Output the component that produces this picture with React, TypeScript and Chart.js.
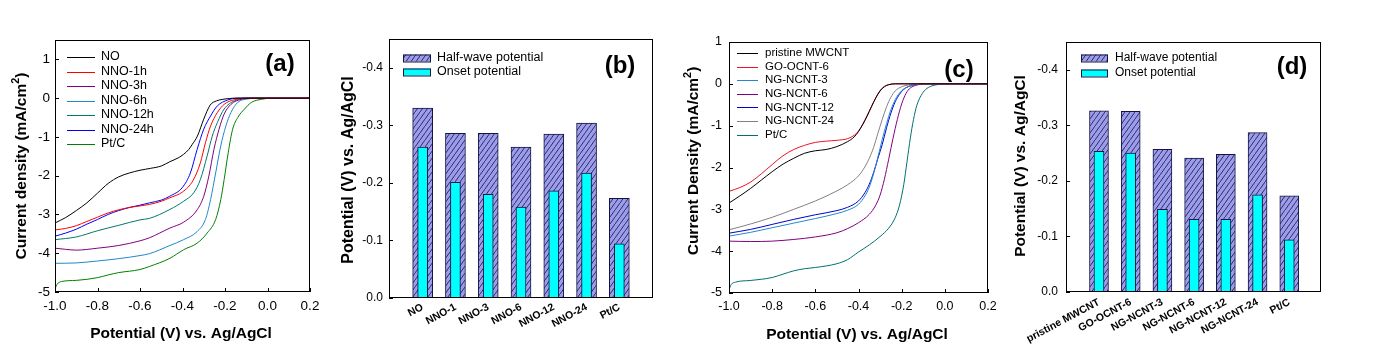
import React, { useEffect, useRef } from "react";
import { Chart, registerables } from "chart.js";

Chart.register(...registerables);

const FONT = '"Liberation Sans", Arial, Helvetica, sans-serif';
Chart.defaults.font.family = FONT;
Chart.defaults.color = "#000";

const H = 362;

// ---------------- Panel (a) data ----------------
const A_X_TICKS = [-1.0, -0.8, -0.6, -0.4, -0.2, 0.0, 0.2];
const A_Y_TICKS = [-5, -4, -3, -2, -1, 0, 1];
const A_LABELS = ["NO", "NNO-1h", "NNO-3h", "NNO-6h", "NNO-12h", "NNO-24h", "Pt/C"];
const A_COLORS = ["#000000", "#ff0000", "#800080", "#1e88c8", "#00786e", "#0000ff", "#008000"];

const A_NO: [number, number][] = [
  [-1.0, -3.22], [-0.95, -3.08], [-0.9, -2.9], [-0.85, -2.7], [-0.8, -2.45], [-0.75, -2.2],
  [-0.7, -2.03], [-0.65, -1.93], [-0.6, -1.86], [-0.55, -1.81], [-0.5, -1.75], [-0.46, -1.64],
  [-0.42, -1.54], [-0.395, -1.45], [-0.37, -1.32], [-0.355, -1.2], [-0.33, -0.98], [-0.3, -0.54],
  [-0.27, -0.18], [-0.24, -0.07], [-0.21, -0.03], [-0.18, -0.01], [-0.15, 0], [0.2, 0],
];
const A_N1: [number, number][] = [
  [-1.0, -3.4], [-0.95, -3.36], [-0.9, -3.29], [-0.85, -3.18], [-0.8, -3.07], [-0.75, -2.96],
  [-0.7, -2.88], [-0.65, -2.82], [-0.6, -2.78], [-0.555, -2.74], [-0.5, -2.66], [-0.46, -2.57],
  [-0.4, -2.42], [-0.35, -2.12], [-0.316, -1.67], [-0.292, -1.15], [-0.268, -0.72], [-0.236, -0.37],
  [-0.204, -0.16], [-0.156, -0.04], [-0.1, 0], [0.2, 0],
];
const A_N3: [number, number][] = [
  [-1.0, -3.87], [-0.95, -3.9], [-0.9, -3.92], [-0.8, -3.87], [-0.7, -3.8], [-0.6, -3.68],
  [-0.555, -3.6], [-0.459, -3.35], [-0.395, -3.2], [-0.331, -2.88], [-0.3, -2.53], [-0.276, -2.01],
  [-0.252, -1.32], [-0.228, -0.8], [-0.204, -0.41], [-0.172, -0.16], [-0.124, -0.03], [-0.08, 0], [0.2, 0],
];
const A_N6: [number, number][] = [
  [-1.0, -4.26], [-0.9, -4.25], [-0.8, -4.2], [-0.7, -4.14], [-0.6, -4.06], [-0.555, -4.01],
  [-0.459, -3.8], [-0.395, -3.65], [-0.331, -3.44], [-0.292, -3.13], [-0.268, -2.62], [-0.244, -1.93],
  [-0.22, -1.23], [-0.196, -0.72], [-0.172, -0.37], [-0.14, -0.11], [-0.092, -0.02], [-0.05, 0], [0.2, 0],
];
const A_N12: [number, number][] = [
  [-1.0, -3.65], [-0.9, -3.58], [-0.8, -3.42], [-0.7, -3.28], [-0.6, -3.14], [-0.555, -3.1],
  [-0.459, -2.87], [-0.395, -2.66], [-0.347, -2.44], [-0.316, -2.1], [-0.284, -1.49], [-0.26, -0.98],
  [-0.236, -0.63], [-0.204, -0.28], [-0.156, -0.07], [-0.1, 0], [0.2, 0],
];
const A_N24: [number, number][] = [
  [-1.0, -3.56], [-0.95, -3.48], [-0.9, -3.38], [-0.85, -3.25], [-0.8, -3.13], [-0.75, -3.0],
  [-0.7, -2.9], [-0.65, -2.82], [-0.6, -2.76], [-0.555, -2.7], [-0.5, -2.63], [-0.46, -2.53],
  [-0.4, -2.3], [-0.363, -1.93], [-0.331, -1.32], [-0.3, -0.8], [-0.268, -0.46], [-0.236, -0.2],
  [-0.188, -0.05], [-0.14, 0], [0.2, 0],
];
const A_PTC: [number, number][] = [
  [-1.0, -4.92], [-0.99, -4.8], [-0.97, -4.73], [-0.9, -4.7], [-0.8, -4.63], [-0.75, -4.56],
  [-0.7, -4.5], [-0.6, -4.42], [-0.555, -4.34], [-0.459, -4.13], [-0.395, -3.91], [-0.331, -3.74],
  [-0.284, -3.48], [-0.244, -3.13], [-0.22, -2.62], [-0.204, -2.1], [-0.185, -1.41], [-0.164, -0.8],
  [-0.14, -0.5], [-0.108, -0.28], [-0.076, -0.11], [-0.028, -0.03], [0.02, 0], [0.2, 0],
];
const A_DATA = [A_NO, A_N1, A_N3, A_N6, A_N12, A_N24, A_PTC];

// ---------------- Panel (b) data ----------------
const B_CATS = ["NO", "NNO-1", "NNO-3", "NNO-6", "NNO-12", "NNO-24", "Pt/C"];
const B_HALF = [-0.33, -0.286, -0.286, -0.262, -0.285, -0.304, -0.173];
const B_ONSET = [-0.262, -0.201, -0.18, -0.158, -0.186, -0.217, -0.094];
const BAR_Y_TICKS = [-0.4, -0.3, -0.2, -0.1, 0.0];

// ---------------- Panel (c) data ----------------
const C_X_TICKS = [-1.0, -0.8, -0.6, -0.4, -0.2, 0.0, 0.2];
const C_Y_TICKS = [-5, -4, -3, -2, -1, 0, 1];
const C_LABELS = ["pristine MWCNT", "GO-OCNT-6", "NG-NCNT-3", "NG-NCNT-6", "NG-NCNT-12", "NG-NCNT-24", "Pt/C"];
const C_COLORS = ["#000000", "#ee1122", "#2288cc", "#800080", "#0000d0", "#808080", "#007070"];

const C_PRISTINE: [number, number][] = [
  [-1.0, -2.85], [-0.95, -2.68], [-0.9, -2.5], [-0.85, -2.3], [-0.8, -2.1], [-0.75, -1.92],
  [-0.7, -1.78], [-0.65, -1.66], [-0.6, -1.6], [-0.55, -1.57], [-0.5, -1.5], [-0.45, -1.38],
  [-0.42, -1.27], [-0.4, -1.14], [-0.38, -0.97], [-0.36, -0.77], [-0.34, -0.55], [-0.32, -0.34],
  [-0.3, -0.17], [-0.28, -0.07], [-0.26, -0.02], [-0.23, 0], [0.2, 0],
];
const C_GO: [number, number][] = [
  [-1.0, -2.57], [-0.95, -2.48], [-0.9, -2.35], [-0.85, -2.15], [-0.8, -1.93], [-0.75, -1.72],
  [-0.7, -1.57], [-0.65, -1.47], [-0.6, -1.4], [-0.55, -1.37], [-0.5, -1.35], [-0.45, -1.31],
  [-0.42, -1.23], [-0.4, -1.13], [-0.38, -0.96], [-0.36, -0.76], [-0.34, -0.54], [-0.32, -0.33],
  [-0.3, -0.16], [-0.28, -0.06], [-0.26, -0.02], [-0.23, 0], [0.2, 0],
];
const C_NG3: [number, number][] = [
  [-1.0, -3.64], [-0.9, -3.55], [-0.8, -3.44], [-0.7, -3.33], [-0.6, -3.22], [-0.5, -3.1],
  [-0.45, -3.02], [-0.4, -2.88], [-0.37, -2.68], [-0.35, -2.47], [-0.33, -2.15], [-0.31, -1.75],
  [-0.29, -1.33], [-0.27, -0.95], [-0.25, -0.62], [-0.23, -0.38], [-0.21, -0.22], [-0.19, -0.12],
  [-0.16, -0.05], [-0.12, -0.01], [-0.08, 0], [0.2, 0],
];
const C_NG6: [number, number][] = [
  [-1.0, -3.76], [-0.9, -3.77], [-0.8, -3.76], [-0.7, -3.72], [-0.6, -3.66], [-0.5, -3.56],
  [-0.45, -3.46], [-0.4, -3.32], [-0.35, -3.12], [-0.32, -2.9], [-0.3, -2.66], [-0.28, -2.28],
  [-0.26, -1.8], [-0.24, -1.3], [-0.22, -0.85], [-0.2, -0.48], [-0.18, -0.23], [-0.16, -0.1],
  [-0.13, -0.03], [-0.1, 0], [0.2, 0],
];
const C_NG12: [number, number][] = [
  [-1.0, -3.57], [-0.9, -3.48], [-0.8, -3.36], [-0.7, -3.24], [-0.6, -3.13], [-0.5, -3.03],
  [-0.45, -2.95], [-0.4, -2.8], [-0.37, -2.6], [-0.35, -2.4], [-0.33, -2.12], [-0.31, -1.78],
  [-0.29, -1.45], [-0.27, -1.05], [-0.25, -0.7], [-0.23, -0.43], [-0.21, -0.25], [-0.19, -0.13],
  [-0.16, -0.05], [-0.12, -0.01], [-0.08, 0], [0.2, 0],
];
const C_NG24: [number, number][] = [
  [-1.0, -3.49], [-0.9, -3.35], [-0.8, -3.19], [-0.7, -3.0], [-0.6, -2.8], [-0.5, -2.56],
  [-0.45, -2.41], [-0.4, -2.2], [-0.37, -1.98], [-0.35, -1.78], [-0.33, -1.52], [-0.31, -1.18],
  [-0.29, -0.85], [-0.27, -0.55], [-0.25, -0.32], [-0.23, -0.17], [-0.2, -0.07], [-0.16, -0.02],
  [-0.12, 0], [0.2, 0],
];
const C_PTC: [number, number][] = [
  [-1.0, -4.92], [-0.99, -4.8], [-0.97, -4.74], [-0.9, -4.7], [-0.8, -4.63], [-0.75, -4.55],
  [-0.7, -4.47], [-0.65, -4.42], [-0.6, -4.39], [-0.5, -4.3], [-0.45, -4.2], [-0.4, -4.02],
  [-0.35, -3.85], [-0.3, -3.65], [-0.26, -3.45], [-0.23, -3.2], [-0.21, -2.9], [-0.19, -2.4],
  [-0.175, -1.85], [-0.16, -1.3], [-0.145, -0.85], [-0.13, -0.52], [-0.11, -0.28], [-0.09, -0.14],
  [-0.06, -0.05], [-0.02, -0.01], [0.02, 0], [0.2, 0],
];
const C_DATA = [C_PRISTINE, C_GO, C_NG3, C_NG6, C_NG12, C_NG24, C_PTC];

// ---------------- Panel (d) data ----------------
const D_CATS = ["pristine MWCNT", "GO-OCNT-6", "NG-NCNT-3", "NG-NCNT-6", "NG-NCNT-12", "NG-NCNT-24", "Pt/C"];
const D_HALF = [-0.326, -0.325, -0.257, -0.241, -0.248, -0.287, -0.173];
const D_ONSET = [-0.253, -0.25, -0.149, -0.131, -0.131, -0.175, -0.094];

const BAR_LEGEND = ["Half-wave potential", "Onset potential"];

// ---------------- helpers ----------------
type Part = { t: string; sup?: boolean };
type Frame = { l: number; t: number; r: number; b: number };

function drawTitle(ctx: CanvasRenderingContext2D, parts: Part[], cx: number, cy: number, size: number, vertical: boolean) {
  ctx.save();
  ctx.translate(cx, cy);
  if (vertical) ctx.rotate(-Math.PI / 2);
  const fonts = parts.map((p) => `bold ${p.sup ? size * 0.7 : size}px ${FONT}`);
  let total = 0;
  const widths = parts.map((p, i) => {
    ctx.font = fonts[i];
    const w = ctx.measureText(p.t).width;
    total += w;
    return w;
  });
  let x = -total / 2;
  ctx.textAlign = "left";
  ctx.textBaseline = "alphabetic";
  ctx.fillStyle = "#000";
  const base = size * 0.36;
  parts.forEach((p, i) => {
    ctx.font = fonts[i];
    ctx.fillText(p.t, x, base - (p.sup ? size * 0.42 : 0));
    x += widths[i];
  });
  ctx.restore();
}

function drawLabel(ctx: CanvasRenderingContext2D, s: string, x: number, y: number, size: number, bold: boolean, align: CanvasTextAlign) {
  ctx.font = `${bold ? "bold " : ""}${size}px ${FONT}`;
  ctx.textAlign = align;
  ctx.textBaseline = "middle";
  ctx.fillStyle = "#000";
  ctx.fillText(s, x, y);
}

function drawFrameAndTicks(chart: any, xTicks: boolean) {
  const ctx: CanvasRenderingContext2D = chart.ctx;
  const ca = chart.chartArea;
  ctx.save();
  ctx.strokeStyle = "#000";
  ctx.lineWidth = 1;
  ctx.strokeRect(Math.round(ca.left) + 0.5, Math.round(ca.top) + 0.5, Math.round(ca.right - ca.left) - 1, Math.round(ca.bottom - ca.top) - 1);
  ctx.beginPath();
  const ys = chart.scales.y;
  ys.ticks.forEach((t: any) => {
    const y = Math.round(ys.getPixelForValue(t.value)) + 0.5;
    ctx.moveTo(ca.left, y);
    ctx.lineTo(ca.left + 4, y);
  });
  if (xTicks) {
    const xs = chart.scales.x;
    xs.ticks.forEach((t: any) => {
      const x = Math.round(xs.getPixelForValue(t.value)) + 0.5;
      ctx.moveTo(x, ca.bottom);
      ctx.lineTo(x, ca.bottom - 4);
    });
  }
  ctx.stroke();
  ctx.restore();
}

function makeHatch(): CanvasPattern | string {
  const c = document.createElement("canvas");
  c.width = 5;
  c.height = 7;
  const g = c.getContext("2d");
  if (!g) return "#9c9cee";
  g.fillStyle = "#9c9cee";
  g.fillRect(0, 0, 5, 7);
  g.strokeStyle = "#22224a";
  g.lineWidth = 0.9;
  g.beginPath();
  g.moveTo(0, 7);
  g.lineTo(5, 0);
  g.stroke();
  return g.createPattern(c, "repeat") || "#9c9cee";
}

// ---------------- line panels ----------------
type LineSpec = {
  left: number;
  width: number;
  frame: Frame;
  labels: string[];
  colors: string[];
  data: [number, number][][];
  xTicks: number[];
  yTicks: number[];
  yMin: number;
  yMax: number;
  tickSize: number;
  xPad: number;
  yPad: number;
  yTitle: Part[];
  yTitleAt: [number, number];
  xTitleAt: [number, number];
  titleSize: number;
  letter: string;
  letterAt: [number, number];
  legend: { x1: number; x2: number; tx: number; y0: number; dy: number; size: number };
};

function lineConfig(p: LineSpec): any {
  const L = p.left;
  return {
    type: "line",
    data: {
      datasets: p.data.map((pts, i) => ({
        label: p.labels[i],
        data: pts.map(([x, y]) => ({ x, y })),
        borderColor: p.colors[i],
        borderWidth: 1,
        pointRadius: 0,
        fill: false,
        cubicInterpolationMode: "monotone",
      })),
    },
    options: {
      animation: false,
      responsive: false,
      events: [],
      layout: { padding: { left: 0, top: p.frame.t, right: L + p.width - p.frame.r, bottom: 0 } },
      plugins: { legend: { display: false }, tooltip: { enabled: false } },
      scales: {
        x: {
          type: "linear",
          min: p.xTicks[0],
          max: p.xTicks[p.xTicks.length - 1],
          grid: { display: false, drawTicks: false },
          border: { display: false },
          ticks: { font: { size: p.tickSize }, padding: p.xPad, maxRotation: 0, callback: (v: any) => Number(v).toFixed(1) },
          afterBuildTicks: (s: any) => {
            s.ticks = p.xTicks.map((v) => ({ value: v }));
          },
          afterFit: (s: any) => {
            s.height = H - p.frame.b;
          },
        },
        y: {
          type: "linear",
          min: p.yMin,
          max: p.yMax,
          grid: { display: false, drawTicks: false },
          border: { display: false },
          ticks: { font: { size: p.tickSize }, padding: p.yPad, callback: (v: any) => String(v) },
          afterBuildTicks: (s: any) => {
            s.ticks = p.yTicks.map((v) => ({ value: v }));
          },
          afterFit: (s: any) => {
            s.width = p.frame.l - L;
          },
        },
      },
    },
    plugins: [
      {
        id: "decor",
        afterDraw(chart: any) {
          drawFrameAndTicks(chart, true);
          const ctx: CanvasRenderingContext2D = chart.ctx;
          ctx.save();
          ctx.translate(-L, 0);
          drawTitle(ctx, p.yTitle, p.yTitleAt[0], p.yTitleAt[1], p.titleSize, true);
          drawTitle(ctx, [{ t: "Potential (V) vs. Ag/AgCl" }], p.xTitleAt[0], p.xTitleAt[1], p.titleSize, false);
          drawLabel(ctx, p.letter, p.letterAt[0], p.letterAt[1], 24, true, "center");
          const lg = p.legend;
          p.labels.forEach((lab, i) => {
            const y = lg.y0 + i * lg.dy;
            ctx.strokeStyle = p.colors[i];
            ctx.lineWidth = 1;
            ctx.beginPath();
            ctx.moveTo(lg.x1, Math.round(y) + 0.5);
            ctx.lineTo(lg.x2, Math.round(y) + 0.5);
            ctx.stroke();
            drawLabel(ctx, lab, lg.tx, y, lg.size, false, "left");
          });
          ctx.restore();
        },
      },
    ],
  };
}

// ---------------- bar panels ----------------
type BarSpec = {
  left: number;
  width: number;
  frame: Frame;
  cats: string[];
  half: number[];
  onset: number[];
  xMin: number;
  xMax: number;
  halfW: number;
  onsetW: number;
  tickSize: number;
  yPad: number;
  catSize: number;
  catPad: number;
  yTitleAt: [number, number];
  titleSize: number;
  letter: string;
  letterAt: [number, number];
  legend: { x1: number; x2: number; tx: number; y0: number; dy: number; size: number };
};

function barConfig(p: BarSpec): any {
  const L = p.left;
  const hatch = makeHatch();
  const border = "#141440";
  return {
    type: "bar",
    data: {
      datasets: [
        {
          label: BAR_LEGEND[1],
          data: p.onset.map((v, i) => ({ x: i, y: v })),
          backgroundColor: "#00ffff",
          borderColor: border,
          borderWidth: 1,
          borderSkipped: false,
          barThickness: p.onsetW,
          grouped: false,
          order: 0,
        },
        {
          label: BAR_LEGEND[0],
          data: p.half.map((v, i) => ({ x: i, y: v })),
          backgroundColor: hatch,
          borderColor: border,
          borderWidth: 1,
          borderSkipped: false,
          barThickness: p.halfW,
          grouped: false,
          order: 1,
        },
      ],
    },
    options: {
      animation: false,
      responsive: false,
      events: [],
      layout: { padding: { left: 0, top: p.frame.t, right: L + p.width - p.frame.r, bottom: 0 } },
      plugins: { legend: { display: false }, tooltip: { enabled: false } },
      scales: {
        x: {
          type: "linear",
          min: p.xMin,
          max: p.xMax,
          offset: false,
          grid: { display: false, drawTicks: false, offset: false },
          border: { display: false },
          ticks: {
            font: { size: p.catSize, weight: "bold" },
            padding: p.catPad,
            minRotation: 28,
            maxRotation: 28,
            autoSkip: false,
            callback: (v: any) => p.cats[Math.round(Number(v))] ?? "",
          },
          afterBuildTicks: (s: any) => {
            s.ticks = p.cats.map((_, i) => ({ value: i }));
          },
          afterFit: (s: any) => {
            s.height = H - p.frame.b;
          },
        },
        y: {
          type: "linear",
          reverse: true,
          min: -0.45,
          max: 0,
          grid: { display: false, drawTicks: false },
          border: { display: false },
          ticks: { font: { size: p.tickSize }, padding: p.yPad, callback: (v: any) => Number(v).toFixed(1) },
          afterBuildTicks: (s: any) => {
            s.ticks = BAR_Y_TICKS.map((v) => ({ value: v }));
          },
          afterFit: (s: any) => {
            s.width = p.frame.l - L;
          },
        },
      },
    },
    plugins: [
      {
        id: "decor",
        afterDraw(chart: any) {
          drawFrameAndTicks(chart, false);
          const ctx: CanvasRenderingContext2D = chart.ctx;
          ctx.save();
          ctx.translate(-L, 0);
          drawTitle(ctx, [{ t: "Potential (V) vs. Ag/AgCl" }], p.yTitleAt[0], p.yTitleAt[1], p.titleSize, true);
          drawLabel(ctx, p.letter, p.letterAt[0], p.letterAt[1], 24, true, "center");
          const lg = p.legend;
          [hatch, "#00ffff"].forEach((fill, i) => {
            const y = Math.round(lg.y0 + i * lg.dy);
            ctx.fillStyle = fill as any;
            ctx.fillRect(lg.x1, y - 3.5, lg.x2 - lg.x1, 7);
            ctx.strokeStyle = border;
            ctx.lineWidth = 1;
            ctx.strokeRect(lg.x1 + 0.5, y - 3.5 + 0.5, lg.x2 - lg.x1 - 1, 7);
            drawLabel(ctx, BAR_LEGEND[i], lg.tx, y, lg.size, false, "left");
          });
          ctx.restore();
        },
      },
    ],
  };
}

// ---------------- specs ----------------
const SPEC_A: LineSpec = {
  left: 0,
  width: 335,
  frame: { l: 55, t: 40, r: 310, b: 292 },
  labels: A_LABELS,
  colors: A_COLORS,
  data: A_DATA,
  xTicks: A_X_TICKS,
  yTicks: A_Y_TICKS,
  yMin: -5,
  yMax: 1.5,
  tickSize: 13.5,
  xPad: 6,
  yPad: 5,
  yTitle: [{ t: "Current density (mA/cm" }, { t: "2", sup: true }, { t: ")" }],
  yTitleAt: [20, 166],
  xTitleAt: [181, 332],
  titleSize: 15.5,
  letter: "(a)",
  letterAt: [280, 64],
  legend: { x1: 67, x2: 95, tx: 101, y0: 57, dy: 14.5, size: 12.5 },
};

const SPEC_C: LineSpec = {
  left: 680,
  width: 330,
  frame: { l: 729, t: 42, r: 988, b: 293 },
  labels: C_LABELS,
  colors: C_COLORS,
  data: C_DATA,
  xTicks: C_X_TICKS,
  yTicks: C_Y_TICKS,
  yMin: -5,
  yMax: 1,
  tickSize: 12.5,
  xPad: 6,
  yPad: 7,
  yTitle: [{ t: "Current Density (mA/cm" }, { t: "2", sup: true }, { t: ")" }],
  yTitleAt: [692, 161],
  xTitleAt: [857, 333],
  titleSize: 15.5,
  letter: "(c)",
  letterAt: [959, 70],
  legend: { x1: 737, x2: 758, tx: 765, y0: 53, dy: 13.6, size: 11.5 },
};

const SPEC_B: BarSpec = {
  left: 335,
  width: 345,
  frame: { l: 389, t: 39, r: 653, b: 298 },
  cats: B_CATS,
  half: B_HALF,
  onset: B_ONSET,
  xMin: -1.027,
  xMax: 7.027,
  halfW: 20,
  onsetW: 10,
  tickSize: 12,
  yPad: 6,
  catSize: 10.5,
  catPad: 3,
  yTitleAt: [347, 170],
  titleSize: 16,
  letter: "(b)",
  letterAt: [620, 66],
  legend: { x1: 403, x2: 431, tx: 437, y0: 57.5, dy: 14.5, size: 12.5 },
};

const SPEC_D: BarSpec = {
  left: 1005,
  width: 371,
  frame: { l: 1066, t: 42, r: 1321, b: 292 },
  cats: D_CATS,
  half: D_HALF,
  onset: D_ONSET,
  xMin: -1.04,
  xMax: 7.0,
  halfW: 19,
  onsetW: 10,
  tickSize: 12,
  yPad: 8,
  catSize: 10.5,
  catPad: 4,
  yTitleAt: [1019, 166],
  titleSize: 15.5,
  letter: "(d)",
  letterAt: [1292, 67],
  legend: { x1: 1081, x2: 1108, tx: 1115, y0: 58, dy: 15, size: 12 },
};

function ChartCanvas({ left, width, build }: { left: number; width: number; build: () => any }) {
  const ref = useRef<HTMLCanvasElement>(null);
  useEffect(() => {
    if (!ref.current) return;
    const chart = new Chart(ref.current, build());
    return () => chart.destroy();
  }, []);
  return (
    <canvas
      ref={ref}
      width={width}
      height={H}
      style={{ position: "absolute", left, top: 0, width, height: H, display: "block" }}
    />
  );
}

export default function App() {
  return (
    <div style={{ position: "absolute", left: 0, top: 0, width: 1376, height: H, background: "#fff", overflow: "hidden" }}>
      <ChartCanvas left={SPEC_A.left} width={SPEC_A.width} build={() => lineConfig(SPEC_A)} />
      <ChartCanvas left={SPEC_B.left} width={SPEC_B.width} build={() => barConfig(SPEC_B)} />
      <ChartCanvas left={SPEC_C.left} width={SPEC_C.width} build={() => lineConfig(SPEC_C)} />
      <ChartCanvas left={SPEC_D.left} width={SPEC_D.width} build={() => barConfig(SPEC_D)} />
    </div>
  );
}
